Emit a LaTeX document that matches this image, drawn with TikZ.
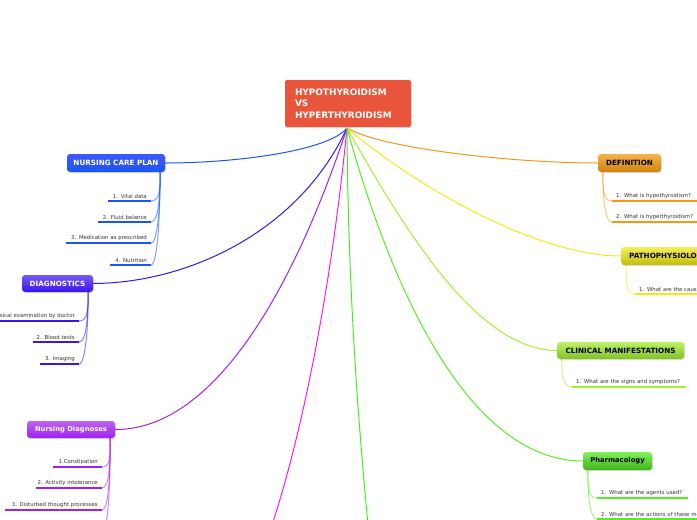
\documentclass[tikz,border=0pt]{standalone}
\usepackage{fontspec}
\setmainfont{DejaVu Sans}
\usetikzlibrary{shadows}
\definecolor{cRed}{HTML}{E8553A}
\definecolor{cBlue}{HTML}{1A55F0}
\definecolor{cIndigo}{HTML}{3A14EE}
\definecolor{cPurple}{HTML}{A020F0}
\definecolor{cMagenta}{HTML}{F020F0}
\definecolor{cGreenB}{HTML}{44EE22}
\definecolor{cOrange}{HTML}{F39A10}
\definecolor{cYellow}{HTML}{F2EA10}
\definecolor{cLime}{HTML}{A6EE30}
\definecolor{cGreen}{HTML}{55EE22}
\tikzset{
  box/.style={rounded corners=3pt, minimum height=18pt, inner xsep=6pt,
    font=\fontsize{7.2}{8}\selectfont\bfseries,
    drop shadow={opacity=0.25, shadow xshift=1pt, shadow yshift=-1pt}},
  boxlc/.style={font=\fontsize{6.8}{8}\selectfont\bfseries},
  subl/.style={anchor=south east, align=right, inner xsep=0pt, inner ysep=2.5pt,
    font=\fontsize{5.4}{6.5}\selectfont, text=black!80},
  subr/.style={anchor=south west, align=left, inner xsep=0pt, inner ysep=2.5pt,
    font=\fontsize{5.4}{6.5}\selectfont, text=black!80},
  ul/.style={line width=2pt},
  br/.style={line width=1pt},
  sc/.style={line width=1pt, opacity=0.55},
}
\begin{document}
\begin{tikzpicture}[x=1pt,y=-1pt]
\useasboundingbox (0,0) rectangle (697,520);
\clip (0,0) rectangle (697,520);
% central
\node[rounded corners=2pt, fill=cRed, minimum width=126pt, minimum height=47pt,
  text=white, font=\fontsize{8.9}{11.5}\selectfont\bfseries, align=left,
  text width=106pt, inner xsep=10pt,
  drop shadow={opacity=0.2, shadow xshift=1pt, shadow yshift=-1pt}]
  (c) at (348,103.5) {HYPOTHYROIDISM\\VS\\HYPERTHYROIDISM};
% main branch nodes
\node[box, top color=blue!45!cBlue!80!white, bottom color=cBlue, text=white, minimum width=98pt] (ncp) at (116,163) {NURSING CARE PLAN};
\node[box, top color=cIndigo!70!white, bottom color=cIndigo, text=white, minimum width=71pt, minimum height=17pt] (dg) at (57.5,283.5) {DIAGNOSTICS};
\node[box, boxlc, top color=cPurple!70!white, bottom color=cPurple, text=white, minimum width=88pt, minimum height=17pt] (nd) at (71,429.5) {Nursing Diagnoses};
\node[box, top color=cOrange!75!white, bottom color=cOrange!85!black, text=black, minimum width=63pt] (df) at (629.5,163) {DEFINITION};
\node[box, top color=cYellow!70!white, bottom color=cYellow!80!black, text=black, anchor=west, inner xsep=8pt] (pp) at (621,256) {PATHOPHYSIOLOGY};
\node[box, top color=cLime!75!white, bottom color=cLime!80!black, text=black, minimum width=127pt, minimum height=17pt] (cm) at (620.5,350.5) {CLINICAL MANIFESTATIONS};
\node[box, boxlc, top color=cGreen!75!white, bottom color=cGreen!75!black, text=black, minimum width=69pt] (ph) at (617.5,461) {Pharmacology};
\coordinate (hub) at (347,128);
\coordinate (mEnd) at (272,525);
\coordinate (gEnd) at (368,525);
% main branches
\draw[br, cBlue] (hub) .. controls (330,150) and (240,163) .. (ncp.east);
\draw[br, cIndigo] (hub) .. controls (300,230) and (190,283) .. (dg.east);
\draw[br, cPurple] (hub) .. controls (290,300) and (210,430) .. (nd.east);
\draw[br, cMagenta] (hub) .. controls (330,300) and (300,440) .. (mEnd);
\draw[br, cGreenB] (hub) .. controls (348,300) and (360,440) .. (gEnd);
\draw[br, cOrange] (hub) .. controls (380,148) and (510,163) .. (df.west);
\draw[br, cYellow] (hub) .. controls (420,190) and (540,256) .. (pp.west);
\draw[br, cLime] (hub) .. controls (410,240) and (480,350) .. (cm.west);
\draw[br, cGreen] (hub) .. controls (400,320) and (480,461) .. (ph.west);
% NURSING CARE PLAN subs
\node[subl, text width=39pt] (n1) at (147,201) {1. Vital data};
\node[subl, text width=49pt] (n2) at (147,222) {2. Fluid balance};
\node[subl, text width=81pt] (n3) at (147,243) {3. Medication as prescribed};
\node[subl, text width=37pt] (n4) at (147,265) {4. Nutrition};
\foreach \n in {n1,n2,n3,n4}{
  \draw[ul, cBlue] (\n.south west) -- ([xshift=4pt]\n.south east);
  \draw[sc, cBlue] ([xshift=-5pt]ncp.south east) .. controls +(0,20) and +(8,0) .. ([xshift=4pt]\n.south east);
}
% DIAGNOSTICS subs
\node[subl, text width=96pt] (d1) at (75,321) {1. Physical examination by doctor};
\node[subl, text width=42pt] (d2) at (75,342) {2. Blood tests};
\node[subl, text width=35pt] (d3) at (75,364) {3. Imaging};
\foreach \n in {d1,d2,d3}{
  \draw[ul, cIndigo] (\n.south west) -- ([xshift=4pt]\n.south east);
  \draw[sc, cIndigo] ([xshift=-5pt]dg.south east) .. controls +(0,20) and +(8,0) .. ([xshift=4pt]\n.south east);
}
% Nursing diagnoses subs
\node[subl, text width=45pt] (p1) at (98,467) {1.Constipation};
\node[subl, text width=62pt] (p2) at (98,488) {2. Activity intolerance};
\node[subl, text width=93pt] (p3) at (98,510) {3. Disturbed thought processes};
\coordinate (p4) at (102,531);
\foreach \n in {p1,p2,p3}{
  \draw[ul, cPurple] (\n.south west) -- ([xshift=4pt]\n.south east);
  \draw[sc, cPurple] ([xshift=-5pt]nd.south east) .. controls +(0,20) and +(8,0) .. ([xshift=4pt]\n.south east);
}
\draw[sc, cPurple] ([xshift=-5pt]nd.south east) .. controls +(0,20) and +(8,0) .. (p4);
% DEFINITION subs
\node[subr, text width=86pt] (f1) at (616,201) {1. What is hypothyroidism?};
\node[subr, text width=86pt] (f2) at (616,222) {2. What is hyperthyroidism?};
\foreach \n in {f1,f2}{
  \draw[ul, cOrange] ([xshift=-4pt]\n.south west) -- (\n.south east);
  \draw[sc, cOrange] ([xshift=5pt]df.south west) .. controls +(0,20) and +(-8,0) .. ([xshift=-4pt]\n.south west);
}
% PATHOPHYSIOLOGY subs
\node[subr, text width=80pt] (y1) at (639,294) {1. What are the causes?};
\draw[ul, cYellow] ([xshift=-4pt]y1.south west) -- (y1.south east);
\draw[sc, cYellow] ([xshift=5pt]pp.south west) .. controls +(0,20) and +(-8,0) .. ([xshift=-4pt]y1.south west);
% CLINICAL subs
\node[subr, text width=110pt] (k1) at (576,387) {1. What are the signs and symptoms?};
\draw[ul, cLime] ([xshift=-4pt]k1.south west) -- (k1.south east);
\draw[sc, cLime] ([xshift=5pt]cm.south west) .. controls +(0,20) and +(-8,0) .. ([xshift=-4pt]k1.south west);
% Pharmacology subs
\node[subr, text width=87pt] (g1) at (601,498) {1. What are the agents used?};
\node[subr, text width=140pt] (g2) at (601,519) {2. What are the actions of these medications?};
\foreach \n in {g1,g2}{
  \draw[ul, cGreen] ([xshift=-4pt]\n.south west) -- (\n.south east);
  \draw[sc, cGreen] ([xshift=5pt]ph.south west) .. controls +(0,20) and +(-8,0) .. ([xshift=-4pt]\n.south west);
}
\end{tikzpicture}
\end{document}
